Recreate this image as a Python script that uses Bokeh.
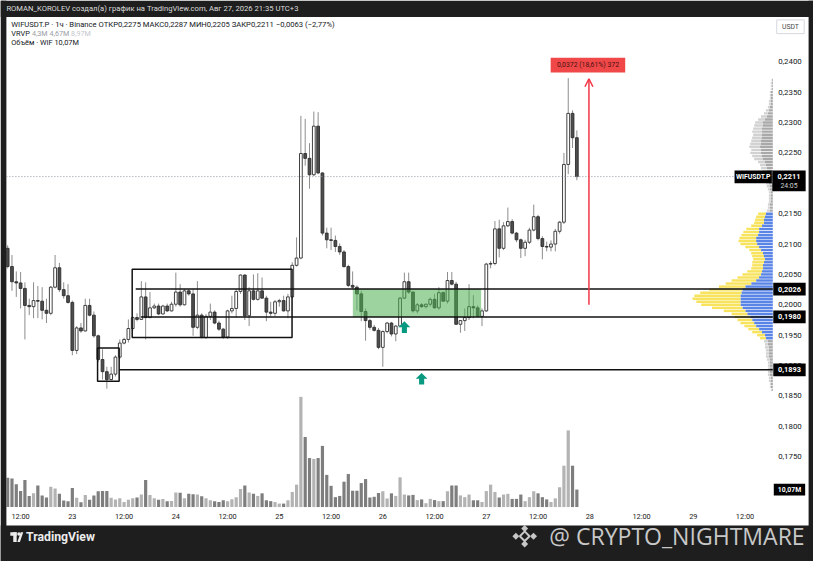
import numpy as np
from bokeh.plotting import figure
from bokeh.models import Range1d, Arrow, OpenHead
from bokeh.core.properties import value
from bokeh.embed import file_html
from bokeh.resources import INLINE

# ------------------------------------------------------------------ data
opens = [0.2093, 0.2063, 0.2038, 0.2036, 0.2027, 0.1999, 0.1997, 0.2007, 0.2006, 0.1991,
         0.1986, 0.2029, 0.2061, 0.2025, 0.2015, 0.2004, 0.1925, 0.1962, 0.1957, 0.1999,
         0.1983, 0.1949, 0.1910, 0.1890, 0.1877, 0.1886, 0.1914, 0.1937, 0.1943, 0.1961,
         0.1979, 0.1976, 0.2013, 0.1979, 0.1995, 0.1998, 0.1985, 0.1998, 0.1990, 0.2001,
         0.2021, 0.2000, 0.2023, 0.2018, 0.1963, 0.1983, 0.1946, 0.1981, 0.1988, 0.1970,
         0.1960, 0.1947, 0.1990, 0.1994, 0.2022, 0.2049, 0.1982, 0.2023, 0.2009, 0.2023,
         0.2011, 0.1988, 0.1986, 0.2005, 0.2007, 0.1990, 0.2013, 0.2065, 0.2077, 0.2249,
         0.2241, 0.2214, 0.2294, 0.2217, 0.2118, 0.2107, 0.2106, 0.2096, 0.2087, 0.2063,
         0.2032, 0.2029, 0.2018, 0.1989, 0.1974, 0.1963, 0.1958, 0.1930, 0.1956, 0.1970,
         0.1952, 0.1965, 0.2011, 0.2038, 0.2021, 0.1990, 0.2000, 0.1997, 0.2001, 0.2009,
         0.1995, 0.2020, 0.2006, 0.2040, 0.2034, 0.1968, 0.1974, 0.1979, 0.1997, 0.1995,
         0.1981, 0.1990, 0.2067, 0.2068, 0.2125, 0.2093, 0.2130, 0.2137, 0.2118, 0.2107,
         0.2093, 0.2103, 0.2123, 0.2145, 0.2109, 0.2096, 0.2095, 0.2100, 0.2121, 0.2136,
         0.2231, 0.2315, 0.2275]
highs = [0.2098, 0.2082, 0.2055, 0.2054, 0.2037, 0.2010, 0.2037, 0.2031, 0.2029, 0.2010,
         0.2031, 0.2082, 0.2069, 0.2037, 0.2034, 0.2007, 0.1965, 0.1970, 0.2010, 0.2010,
         0.1989, 0.1951, 0.1927, 0.1898, 0.1898, 0.1917, 0.1943, 0.1946, 0.1976, 0.1981,
         0.1986, 0.2039, 0.2037, 0.2021, 0.2002, 0.2002, 0.2000, 0.2002, 0.2005, 0.2053,
         0.2034, 0.2026, 0.2026, 0.2026, 0.2039, 0.1986, 0.1985, 0.2002, 0.1991, 0.1974,
         0.1962, 0.1992, 0.2015, 0.2026, 0.2050, 0.2050, 0.2029, 0.2050, 0.2052, 0.2045,
         0.2015, 0.2005, 0.2008, 0.2010, 0.2015, 0.2018, 0.2070, 0.2111, 0.2311, 0.2306,
         0.2266, 0.2318, 0.2317, 0.2218, 0.2127, 0.2127, 0.2114, 0.2101, 0.2090, 0.2066,
         0.2055, 0.2032, 0.2023, 0.1994, 0.1977, 0.1967, 0.1962, 0.1958, 0.1972, 0.1972,
         0.1967, 0.2013, 0.2053, 0.2053, 0.2022, 0.2003, 0.2003, 0.2002, 0.2012, 0.2018,
         0.2029, 0.2022, 0.2054, 0.2054, 0.2038, 0.1975, 0.1994, 0.2034, 0.2016, 0.1999,
         0.1994, 0.2069, 0.2072, 0.2138, 0.2140, 0.2136, 0.2160, 0.2141, 0.2120, 0.2109,
         0.2107, 0.2127, 0.2165, 0.2148, 0.2113, 0.2104, 0.2106, 0.2125, 0.2138, 0.2250,
         0.2373, 0.2320, 0.2287]
lows = [0.2060, 0.2023, 0.2013, 0.1994, 0.1943, 0.1983, 0.1978, 0.1978, 0.1976, 0.1970,
        0.1983, 0.2027, 0.2021, 0.2010, 0.2002, 0.1917, 0.1919, 0.1954, 0.1956, 0.1981,
        0.1946, 0.1906, 0.1877, 0.1862, 0.1876, 0.1882, 0.1911, 0.1935, 0.1938, 0.1957,
        0.1973, 0.1976, 0.1943, 0.1978, 0.1993, 0.1983, 0.1984, 0.1988, 0.1989, 0.1997,
        0.1997, 0.1999, 0.2015, 0.1949, 0.1960, 0.1945, 0.1944, 0.1975, 0.1968, 0.1957,
        0.1944, 0.1944, 0.1986, 0.1979, 0.2018, 0.1975, 0.1965, 0.2007, 0.2007, 0.2010,
        0.1973, 0.1981, 0.1981, 0.1997, 0.1989, 0.1978, 0.2011, 0.2063, 0.2075, 0.2229,
        0.2191, 0.2212, 0.2215, 0.2114, 0.2093, 0.2090, 0.2087, 0.2082, 0.2061, 0.2029,
        0.2026, 0.1991, 0.1973, 0.1941, 0.1959, 0.1956, 0.1927, 0.1898, 0.1953, 0.1948,
        0.1940, 0.1963, 0.2010, 0.2018, 0.1987, 0.1986, 0.1995, 0.1994, 0.1997, 0.1994,
        0.1992, 0.2005, 0.2002, 0.2032, 0.1967, 0.1954, 0.1957, 0.1975, 0.1978, 0.1980,
        0.1965, 0.1988, 0.2060, 0.2065, 0.2078, 0.2090, 0.2128, 0.2116, 0.2103, 0.2077,
        0.2080, 0.2100, 0.2121, 0.2106, 0.2075, 0.2088, 0.2088, 0.2088, 0.2117, 0.2133,
        0.2215, 0.2258, 0.2205]
closes = [0.2063, 0.2038, 0.2036, 0.2027, 0.1999, 0.1997, 0.2007, 0.2006, 0.1991, 0.1986,
          0.2029, 0.2061, 0.2025, 0.2015, 0.2004, 0.1925, 0.1962, 0.1957, 0.1999, 0.1983,
          0.1949, 0.1910, 0.1890, 0.1877, 0.1886, 0.1914, 0.1937, 0.1943, 0.1961, 0.1979,
          0.1976, 0.2013, 0.1979, 0.1995, 0.1998, 0.1985, 0.1998, 0.1990, 0.2001, 0.2021,
          0.2000, 0.2023, 0.2018, 0.1963, 0.1983, 0.1946, 0.1981, 0.1988, 0.1970, 0.1960,
          0.1947, 0.1990, 0.1994, 0.2022, 0.2049, 0.1982, 0.2023, 0.2009, 0.2023, 0.2011,
          0.1988, 0.1986, 0.2005, 0.2007, 0.1990, 0.2013, 0.2065, 0.2077, 0.2249, 0.2241,
          0.2214, 0.2294, 0.2217, 0.2118, 0.2107, 0.2106, 0.2096, 0.2087, 0.2063, 0.2032,
          0.2029, 0.2018, 0.1989, 0.1974, 0.1963, 0.1958, 0.1930, 0.1956, 0.1970, 0.1952,
          0.1965, 0.2011, 0.2038, 0.2021, 0.1990, 0.2000, 0.1997, 0.2001, 0.2009, 0.1995,
          0.2020, 0.2006, 0.2040, 0.2034, 0.1968, 0.1974, 0.1979, 0.1997, 0.1995, 0.1981,
          0.1990, 0.2067, 0.2068, 0.2125, 0.2093, 0.2130, 0.2137, 0.2118, 0.2107, 0.2093,
          0.2103, 0.2123, 0.2145, 0.2109, 0.2096, 0.2095, 0.2100, 0.2121, 0.2136, 0.2231,
          0.2315, 0.2275, 0.2211]
volumes_m = [16.8, 16.4, 13.1, 9.2, 15.6, 6.4, 7.9, 12.4, 6.7, 5.5,
             11.7, 10.7, 7.6, 3.7, 3.4, 10.9, 5.4, 2.7, 7.0, 4.2,
             6.7, 9.1, 9.2, 9.2, 5.4, 4.4, 5.0, 2.9, 4.2, 5.0,
             5.5, 7.2, 15.6, 7.0, 5.0, 4.2, 4.7, 3.4, 3.5, 8.4,
             8.2, 5.0, 7.6, 7.4, 7.2, 6.2, 5.0, 3.9, 3.4, 2.9,
             3.9, 3.4, 4.5, 5.7, 10.4, 12.4, 8.4, 7.6, 6.4, 7.9,
             3.9, 3.4, 2.9, 2.0, 2.0, 3.9, 8.7, 12.9, 63.4, 40.3,
             28.2, 27.7, 28.2, 35.2, 18.5, 12.2, 5.7, 6.4, 14.6, 19.0,
             9.4, 9.4, 13.8, 16.1, 5.5, 5.9, 8.1, 9.1, 4.9, 7.9,
             6.4, 17.1, 7.2, 6.7, 7.0, 4.0, 4.4, 2.2, 4.7, 4.0,
             3.4, 3.4, 9.1, 12.4, 12.4, 6.7, 5.7, 7.2, 3.9, 3.9,
             2.9, 9.2, 12.9, 8.7, 5.5, 7.2, 7.6, 4.7, 4.7, 7.2,
             3.4, 5.7, 9.1, 7.9, 5.7, 4.4, 2.9, 5.0, 11.4, 23.8,
             44.1, 23.8, 10.07]

# visible-range volume profile: rows of 0.0005 from 0.1860 upward
profile_low = 0.1860
profile_step = 0.0005
profile_up = [1, 2, 2, 2, 2, 3, 3, 3, 3, 3,
              3, 4, 4, 4, 4, 5, 5, 7, 8, 11,
              14, 17, 19, 21, 23, 26, 28, 31, 33, 33,
              33, 33, 32, 31, 28, 22, 17, 14, 12, 11,
              10, 10, 9, 8, 9, 10, 12, 14, 16, 17,
              17, 15, 14, 14, 11, 9, 9, 8, 7, 3,
              3, 3, 2, 2, 2, 2, 3, 3, 4, 4,
              5, 5, 6, 6, 7, 8, 10, 11, 12, 12,
              13, 12, 12, 11, 11, 11, 11, 10, 10, 8,
              6, 5, 4, 3, 2, 2, 2, 2, 2, 1,
              1, 1, 1]
profile_down = [1, 1, 1, 2, 2, 2, 2, 2, 2, 2,
                3, 3, 3, 3, 4, 3, 4, 6, 8, 10,
                11, 12, 14, 15, 16, 16, 22, 31, 40, 45,
                49, 47, 42, 34, 27, 26, 25, 22, 19, 15,
                12, 11, 12, 12, 12, 12, 12, 14, 17, 18,
                17, 17, 16, 13, 11, 10, 9, 9, 8, 3,
                2, 2, 2, 2, 2, 2, 2, 3, 3, 4,
                4, 5, 5, 6, 6, 7, 9, 10, 11, 10,
                11, 11, 10, 10, 9, 10, 9, 9, 8, 7,
                6, 4, 3, 2, 2, 2, 1, 1, 1, 1,
                1, 1, 0]
value_area = (0.1945, 0.2150)

price_ticks = [0.2400, 0.2350, 0.2300, 0.2250, 0.2200, 0.2150, 0.2100,
               0.2050, 0.2000, 0.1950, 0.1900, 0.1850, 0.1800, 0.1750]
time_labels = ["12:00", "23", "12:00", "24", "12:00", "25", "12:00", "26",
               "12:00", "27", "12:00", "28", "12:00", "29", "12:00"]
time_first_tick = 3      # 22 Aug 12:00 is bar 3 (bars are hourly from 09:00)
level_prices = [0.2026, 0.1980, 0.1893]
level_start = [29.7, 30.9, 25.86]
last_price = 0.2211
range_start, range_end, range_bar = 0.2000, 0.2372, 134.8
arrow_bars = [92.0, 96.0]
arrow_tips = [0.19728, 0.18880]
box_small = (20.85, 25.86, 0.18741, 0.19291)
box_range = (28.88, 65.95, 0.19464, 0.20587)
green_zone = (80.05, 109.8, 0.1980, 0.2026)

# ------------------------------------------------------------------ geometry (reference px -> data)
IDX_X0, IDX_PX = 7.3, 4.397          # x of bar 0, px per bar
P_REF, P_REF_Y, P_PX = 0.2400, 63.0, 6250.0
VOL_BASE_Y, VOL_PX = 521.0, 18.0 / 10.07
REF_W, REF_H = 829, 577


def ix(X):
    return (X - IDX_X0) / IDX_PX


def py(Y):
    return P_REF - (Y - P_REF_Y) / P_PX


def vy(Y):
    return (VOL_BASE_Y - Y) / VOL_PX


W, H = 813, 561
SC = W / REF_W
p = figure(width=W, height=H, x_range=Range1d(ix(0), ix(REF_W)), y_range=Range1d(py(REF_H), py(0)),
           x_axis_location=None, y_axis_location=None, toolbar_location=None,
           output_backend="svg", min_border=0, outline_line_color=None,
           background_fill_color="white", border_fill_color="white")
p.grid.visible = False
p.extra_y_ranges = {"vol": Range1d(vy(REF_H), vy(0))}

FONT = value("Roboto")
DARK = "#1e1e1e"


def fs(v):
    return f"{v * SC:.2f}px"


def txt(x, y, s, size=7.5, color="#131722", align="left", bold=False, font=FONT):
    p.text(x=[x], y=[y], text=[s], text_font=font, text_font_size=fs(size), text_color=color,
           text_align=align, text_baseline="middle",
           text_font_style="bold" if bold else "normal")


def srect(x, y, w, h, fill, line=None, **kw):
    p.rect(x=[x], y=[y], width=w * SC, height=h * SC, width_units="screen",
           height_units="screen", fill_color=fill, line_color=line, **kw)


# dark frame: header, footer, side borders
p.quad(left=[ix(0), ix(0), ix(0), ix(824)], right=[ix(REF_W), ix(REF_W), ix(6), ix(REF_W)],
       bottom=[py(17), py(REF_H), py(REF_H), py(REF_H)], top=[py(0), py(540), py(0), py(0)],
       fill_color=DARK, line_color=None)

n = len(opens)
idx = np.arange(n)
o = np.array(opens); c = np.array(closes)
is_up = c >= o

# volume
vcol = ["#b3b3b3" if u else "#7e7e7e" for u in is_up]
p.vbar(x=idx, top=volumes_m, bottom=0, width=0.74, y_range_name="vol",
       fill_color=vcol, line_color=None)

# candles
p.segment(x0=idx, y0=lows, x1=idx, y1=highs, line_color="#8d8d8d", line_width=1)
body_fill = ["#ffffff" if u else "#4d4d4d" for u in is_up]
p.vbar(x=idx, top=np.maximum(o, c), bottom=np.minimum(o, c), width=0.64,
       fill_color=body_fill, line_color="#2e2e2e", line_width=0.9)

# green zone
p.quad(left=[green_zone[0]], right=[green_zone[1]], bottom=[green_zone[2]], top=[green_zone[3]],
       fill_color="#4caf50", fill_alpha=0.55, line_color=None)

# rectangles
for b in (box_small, box_range):
    p.quad(left=[b[0]], right=[b[1]], bottom=[b[2]], top=[b[3]], fill_color=None,
           line_color="#111111", line_width=1.5)

# volume profile
R = ix(787.5)
prow = [round(profile_low + profile_step * k, 4) for k in range(len(profile_up))]
in_va = [value_area[0] <= pr <= value_area[1] for pr in prow]
up_w = np.array(profile_up) / IDX_PX
tot_w = (np.array(profile_up) + np.array(profile_down)) / IDX_PX
p.hbar(y=prow, left=R - up_w, right=R, height=0.0004,
       fill_color=["#5a85e6" if v else "#a9a9a9" for v in in_va], line_color=None)
p.hbar(y=prow, left=R - tot_w, right=R - up_w, height=0.0004,
       fill_color=["#f8e35e" if v else "#d2d2d2" for v in in_va], line_color=None)

# current price dotted line
p.segment(x0=[ix(6)], x1=[R], y0=[last_price], y1=[last_price], line_color="#8f939c",
          line_width=1, line_dash="1 2")

# horizontal levels
p.segment(x0=level_start, x1=[R] * 3, y0=level_prices, y1=level_prices,
          line_color="#111111", line_width=1.5)

# teal arrows
shape = [(0, 0), (6, 6), (2.6, 6), (2.6, 12), (-2.6, 12), (-2.6, 6), (-6, 6)]
xs = [[b + dx / IDX_PX for dx, dy in shape] for b in arrow_bars]
ys = [[t - dy / P_PX for dx, dy in shape] for t in arrow_tips]
p.patches(xs, ys, fill_color="#089981", line_color=None)

# red price-range arrow
p.add_layout(Arrow(end=OpenHead(line_color="#f23645", line_width=1.5, size=8),
                   x_start=range_bar, y_start=range_start, x_end=range_bar, y_end=range_end,
                   line_color="#f23645", line_width=1.5))
srect(ix(599), py(66.5), 76, 15, "#f04848")
dv = range_end - range_start
txt(ix(599), py(66.5), f"{dv:.4f}".replace(".", ",") + " (18,61%) 372",
    size=7, color="#4a1010", align="center")

# price scale
tick_lbl = [f"{v:.4f}".replace(".", ",") for v in price_ticks]
p.text(x=[ix(805)] * len(price_ticks), y=price_ticks, text=tick_lbl, text_font=FONT,
       text_font_size=fs(8), text_color="#131722", text_align="center", text_baseline="middle")

# USDT button
srect(ix(805.5), py(27), 28, 14, "white", line="#d6d8de")
txt(ix(805.5), py(27), "USDT", size=7, color="#4a4a4a", align="center")

# black axis labels
for pr in level_prices:
    srect(ix(804.5), pr, 33, 13, "#000000")
    txt(ix(804.5), pr, f"{pr:.4f}".replace(".", ","), size=7.5, color="white",
        align="center", bold=True)
srect(ix(804), py(185.5), 34, 21, "#000000")
txt(ix(804), py(181), f"{last_price:.4f}".replace(".", ","), size=7.5, color="white",
    align="center", bold=True)
txt(ix(804), py(191), "24:05", size=7, color="#d0d0d0", align="center")
srect(ix(767.5), py(181.5), 38, 13, "#000000")
txt(ix(767.5), py(181.5), "WIFUSDT.P", size=7, color="white", align="center", bold=True)
p.rect(x=[ix(804.5)], y=[vy(503)], width=32 * SC, height=12 * SC, width_units="screen",
       height_units="screen", fill_color="#000000", line_color=None, y_range_name="vol")
txt(ix(804.5), py(503), f"{volumes_m[-1]:.2f}".replace(".", ",") + "M", size=7,
    color="white", align="center", bold=True)

# time scale
t_idx = [time_first_tick + 12 * k for k in range(len(time_labels))]
p.text(x=t_idx, y=[py(531)] * len(t_idx), text=time_labels, text_font=FONT,
       text_font_size=fs(7.5), text_color="#222222", text_align="center", text_baseline="middle")

# legend lines (top-left)
txt(ix(11), py(25), "WIFUSDT.P · 1ч · Binance  ОТКР0,2275  МАКС0,2287  МИН0,2205  ЗАКР0,2211  −0,0063 (−2,77%)",
    size=7.8, color="#131722")
txt(ix(11), py(34), "VRVP", size=7.5, color="#131722")
txt(ix(32), py(34), "4,3M", size=7.3, color="#9a9da5")
txt(ix(50), py(34), "4,67M", size=7.3, color="#9a9da5")
txt(ix(72), py(34), "8,97M", size=7.3, color="#c4c6cc")
txt(ix(11), py(43), "Объём · WIF", size=7.5, color="#131722")
txt(ix(55), py(43), "10,07M", size=7.5, color="#131722")

# header text
txt(ix(6), py(8.5), "ROMAN_KOROLEV создал(а) график на TradingView.com, Авг 27, 2026 21:35 UTC+3",
    size=7.8, color="#dcdcdc")

# footer: TradingView logo + watermark
p.quad(left=[ix(10), ix(13)], right=[ix(16.5), ix(16.5)], bottom=[py(550.5), py(557)],
       top=[py(547), py(547)], fill_color="#ececec", line_color=None)
p.scatter(x=[ix(18.8)], y=[py(548.8)], size=3.5 * SC, marker="circle", fill_color="#ececec",
          line_color=None)
p.patches([[ix(17.2), ix(20.6), ix(23.2), ix(19.8)]], [[py(557), py(547), py(547), py(557)]],
          fill_color="#ececec", line_color=None)
txt(ix(26), py(552), "TradingView", size=12.5, color="#ececec", bold=True)

bx, byy = 534.5, 551.0
p.scatter(x=[ix(bx), ix(bx - 9), ix(bx + 9), ix(bx)], y=[py(byy - 8), py(byy), py(byy), py(byy + 8)],
          marker="square", angle=np.pi / 4, size=5 * SC, fill_color="#c8c8c8", line_color=None)
p.scatter(x=[ix(bx)], y=[py(byy)], marker="square", angle=np.pi / 4, size=7 * SC,
          fill_color=None, line_color="#c8c8c8", line_width=2)
txt(ix(820), py(551), "@ CRYPTO_NIGHTMARE", size=23.5, color="#c8c8c8", align="right",
    font=value("Open Sans"))

open("out.html", "w").write(file_html(p, INLINE))
